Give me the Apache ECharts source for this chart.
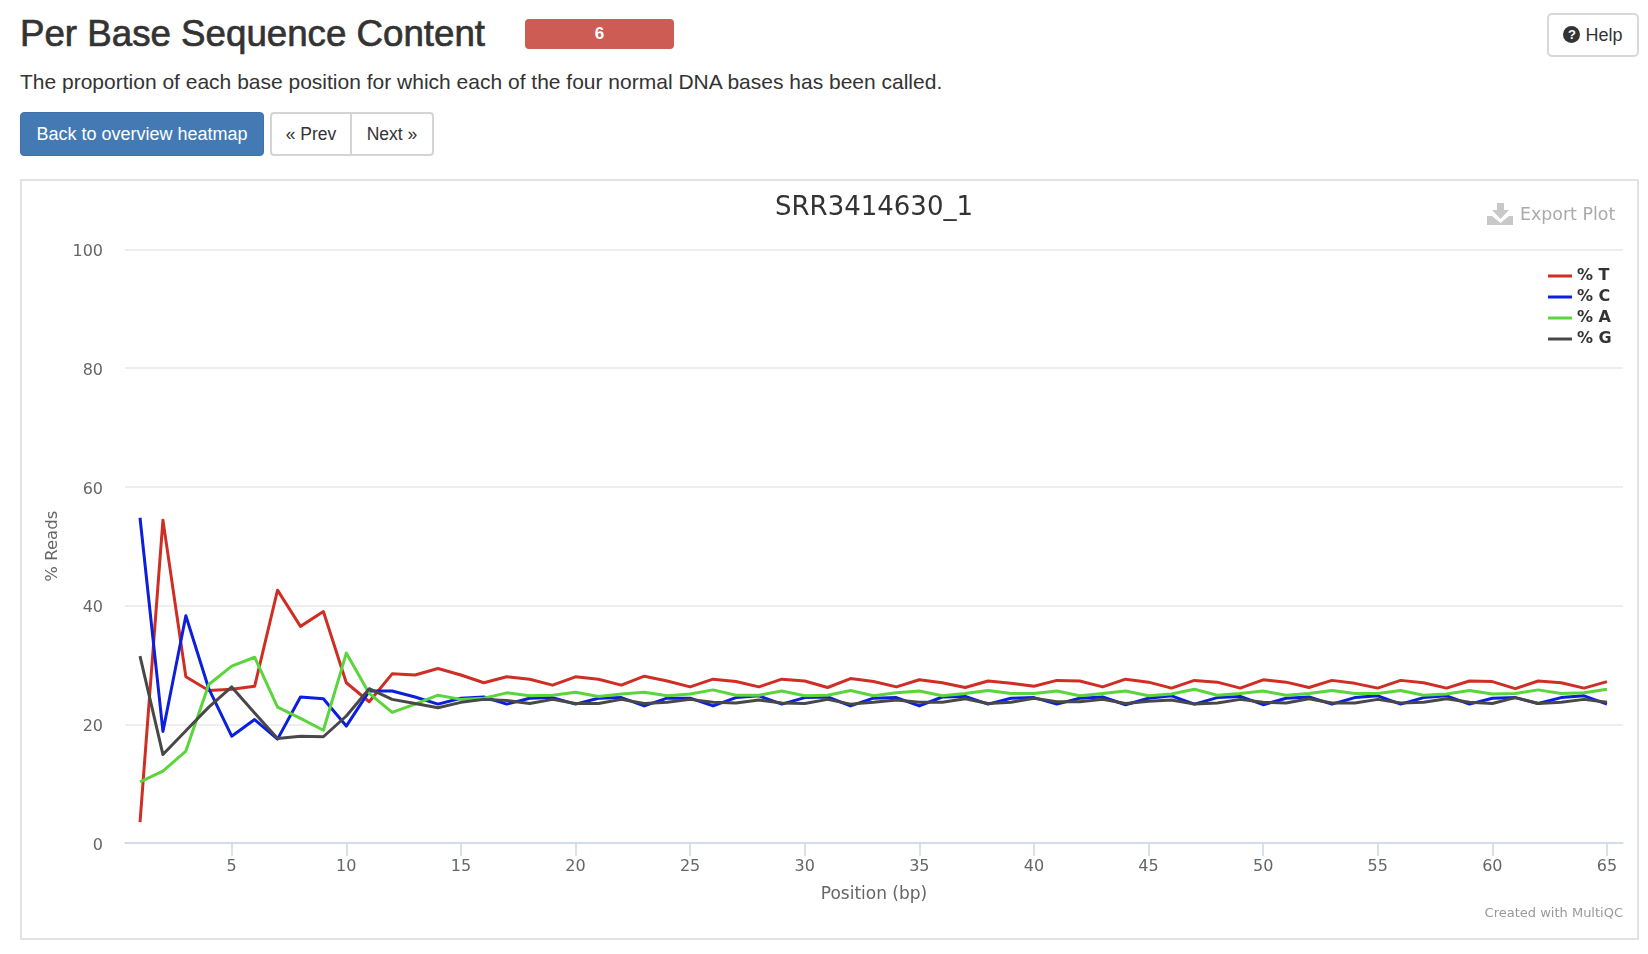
<!DOCTYPE html>
<html lang="en">
<head>
<meta charset="UTF-8">
<title>Per Base Sequence Content</title>
<style>
html, body { margin: 0; padding: 0; background: #fff; }
body { width: 1648px; height: 954px; position: relative; overflow: hidden; font-family: "Liberation Sans", Arial, sans-serif; color: #333; }
.abs { position: absolute; box-sizing: border-box; }
.pageTitle { left: 20px; top: 12px; font-size: 36.7px; line-height: 44px; font-weight: 400; -webkit-text-stroke: 0.7px #333; white-space: nowrap; }
.badge { left: 525px; top: 19px; width: 149px; height: 30px; background: #cd5c54; border-radius: 4px; color: #fff; font-size: 17px; font-weight: bold; text-align: center; line-height: 29px; }
.desc { left: 20px; top: 70px; font-size: 21px; line-height: 24px; white-space: nowrap; }
.btn { top: 112px; height: 44px; font-size: 18px; line-height: 42px; text-align: center; white-space: nowrap; }
.back { left: 20px; width: 244px; background: #447ab3; border: 1px solid #3f71a8; border-radius: 4px; color: #fff; }
.prev { left: 270px; width: 82px; border: 2px solid #d4d4d4; border-radius: 4px 0 0 4px; line-height: 40px; font-size: 17.5px; }
.next { left: 350px; width: 84px; border: 2px solid #d4d4d4; border-radius: 0 4px 4px 0; line-height: 40px; font-size: 17.5px; }
.help { left: 1547px; top: 13px; width: 92px; height: 44px; border: 2px solid #d8d8d8; border-radius: 5px; font-size: 18px; line-height: 40px; text-align: center; white-space: nowrap; }
.help i { display: inline-block; width: 17px; height: 17px; border-radius: 50%; background: #333; color: #fff; font-size: 13px; font-weight: bold; font-style: normal; line-height: 17px; vertical-align: 2px; }
.card { left: 20px; top: 179px; width: 1619px; height: 761px; border: 2px solid #e2e2e2; }
#chart { position: absolute; left: 22px; top: 181px; width: 1615px; height: 757px; }
</style>
</head>
<body>
<div class="abs pageTitle">Per Base Sequence Content</div>
<div class="abs badge">6</div>
<div class="abs desc">The proportion of each base position for which each of the four normal DNA bases has been called.</div>
<div class="abs btn back">Back to overview heatmap</div>
<div class="abs btn prev">« Prev</div>
<div class="abs btn next">Next »</div>
<div class="abs help"><i>?</i> Help</div>
<div class="abs card"></div>
<div id="chart"></div>
<script src="https://cdn.jsdelivr.net/npm/echarts@6/dist/echarts.min.js"></script>
<script>
// values, position 1 to 65
var percentT = [3.5,54.4,28,25.7,25.9,26.4,42.6,36.5,39,27,23.8,28.5,28.3,29.4,28.3,27,28,27.6,26.6,28,27.6,26.6,28.1,27.3,26.3,27.6,27.2,26.3,27.6,27.3,26.2,27.7,27.2,26.3,27.5,27,26.2,27.3,26.9,26.4,27.4,27.3,26.3,27.6,27.1,26.1,27.4,27.1,26.1,27.5,27.1,26.2,27.4,26.9,26.1,27.4,27,26.1,27.3,27.2,26,27.3,27,26.1,27.2];
var percentC = [54.8,18.8,38.3,26,18,20.8,17.5,24.6,24.3,19.7,25.6,25.6,24.6,23.4,24.4,24.6,23.4,24.4,24.5,23.4,24.4,24.5,23.1,24.4,24.4,23.1,24.5,24.8,23.4,24.5,24.6,23.1,24.4,24.5,23.1,24.6,24.7,23.4,24.4,24.5,23.4,24.4,24.6,23.3,24.4,24.8,23.4,24.5,24.7,23.3,24.4,24.6,23.4,24.5,24.8,23.4,24.5,24.8,23.4,24.4,24.5,23.5,24.5,24.8,23.4];
var percentA = [10.3,12.1,15.5,26.7,29.8,31.3,22.9,21,19,32,25.2,22,23.4,24.9,24.2,24.4,25.3,24.8,24.9,25.4,24.7,25.1,25.4,24.8,25.1,25.8,24.9,24.9,25.6,24.8,24.9,25.7,24.8,25.3,25.6,24.8,25.2,25.7,25.2,25.2,25.6,24.8,25.2,25.6,24.8,25.1,25.9,24.9,25.2,25.6,24.9,25.2,25.7,25.2,25.2,25.7,24.9,25.1,25.7,25.1,25.2,25.8,25.2,25.3,25.9];
var percentG = [31.5,14.9,18.9,22.9,26.3,21.9,17.6,18,17.9,21.4,26,24.2,23.5,22.8,23.7,24.2,24,23.5,24.2,23.5,23.5,24.2,23.5,23.7,24.2,23.7,23.6,24.1,23.6,23.5,24.2,23.4,23.7,24.1,23.7,23.7,24.3,23.5,23.7,24.4,23.8,23.8,24.2,23.5,23.9,24.1,23.4,23.6,24.2,23.7,23.6,24.3,23.6,23.6,24.2,23.6,23.7,24.3,23.7,23.5,24.5,23.5,23.7,24.2,23.7];
var xTicks = [5,10,15,20,25,30,35,40,45,50,55,60,65];
var yTicks = [0,20,40,60,80,100];

function withPositions(values) {
  return values.map(function (v, i) { return [i + 1, v]; });
}
function makeSeries(name, values, color) {
  return {
    name: name,
    type: 'line',
    symbol: 'none',
    silent: true,
    animation: false,
    data: withPositions(values),
    lineStyle: { color: color, width: 3, join: 'round' },
    itemStyle: { color: color }
  };
}

var chartFont = '"DejaVu Sans", sans-serif';
var chart = echarts.init(document.getElementById('chart'));
chart.setOption({
  animation: false,
  title: {
    text: 'SRR3414630_1',
    left: 847,
    top: 9,
    textAlign: 'center',
    textStyle: { fontFamily: chartFont, fontSize: 26, fontWeight: 'normal', color: '#333' }
  },
  legend: {
    orient: 'vertical',
    left: 1521,
    top: 82,
    icon: 'rect',
    itemWidth: 24,
    itemHeight: 3,
    itemGap: 5,
    selectedMode: false,
    textStyle: { fontFamily: chartFont, fontSize: 16, lineHeight: 16, fontWeight: 'bold', color: '#333' }
  },
  grid: { left: 103, right: 14, top: 68.5, bottom: 95 },
  xAxis: {
    type: 'value',
    min: 0.345,
    max: 65.7,
    name: 'Position (bp)',
    nameLocation: 'middle',
    nameGap: 43,
    nameTextStyle: { fontFamily: chartFont, fontSize: 17, color: '#666' },
    splitLine: { show: false },
    axisLine: { onZero: false, lineStyle: { color: '#ccd6eb', width: 1.5 } },
    axisTick: { show: true, customValues: xTicks, length: 13, lineStyle: { color: '#ccd6eb', width: 1.5 } },
    axisLabel: { customValues: xTicks, margin: 16, fontFamily: chartFont, fontSize: 16, color: '#666' }
  },
  yAxis: {
    type: 'value',
    min: yTicks[0],
    max: yTicks[yTicks.length - 1],
    interval: 20,
    name: '% Reads',
    nameLocation: 'middle',
    nameGap: 64,
    nameTextStyle: { fontFamily: chartFont, fontSize: 16.5, color: '#666' },
    axisLine: { show: false },
    axisTick: { show: false },
    axisLabel: { margin: 22, verticalAlign: 'top', lineHeight: 5, fontFamily: chartFont, fontSize: 16, color: '#666' },
    splitLine: { lineStyle: { color: '#e8e8e8', width: 1.5 } }
  },
  graphic: [
    {
      type: 'text',
      left: 1498,
      top: 26,
      style: { text: 'Export Plot', fontFamily: chartFont, fontSize: 17.4, fill: '#aaa' }
    },
    {
      // download icon: arrow
      type: 'polygon',
      shape: { points: [[1475, 22], [1482, 22], [1482, 29], [1487, 29], [1478.5, 38], [1470, 29], [1475, 29]] },
      style: { fill: '#c8c8c8' }
    },
    {
      // download icon: tray
      type: 'polygon',
      shape: { points: [[1465, 35], [1470, 35], [1478.5, 42], [1487, 35], [1491, 35], [1491, 44], [1465, 44]] },
      style: { fill: '#c8c8c8' }
    },
    {
      type: 'text',
      right: 14,
      bottom: 18,
      style: { text: 'Created with MultiQC', fontFamily: chartFont, fontSize: 13, fill: '#999' }
    }
  ],
  series: [
    makeSeries('% T', percentT, '#cf2e24'),
    makeSeries('% C', percentC, '#0b1fdc'),
    makeSeries('% A', percentA, '#5ad53c'),
    makeSeries('% G', percentG, '#484848')
  ]
});
</script>
</body>
</html>
